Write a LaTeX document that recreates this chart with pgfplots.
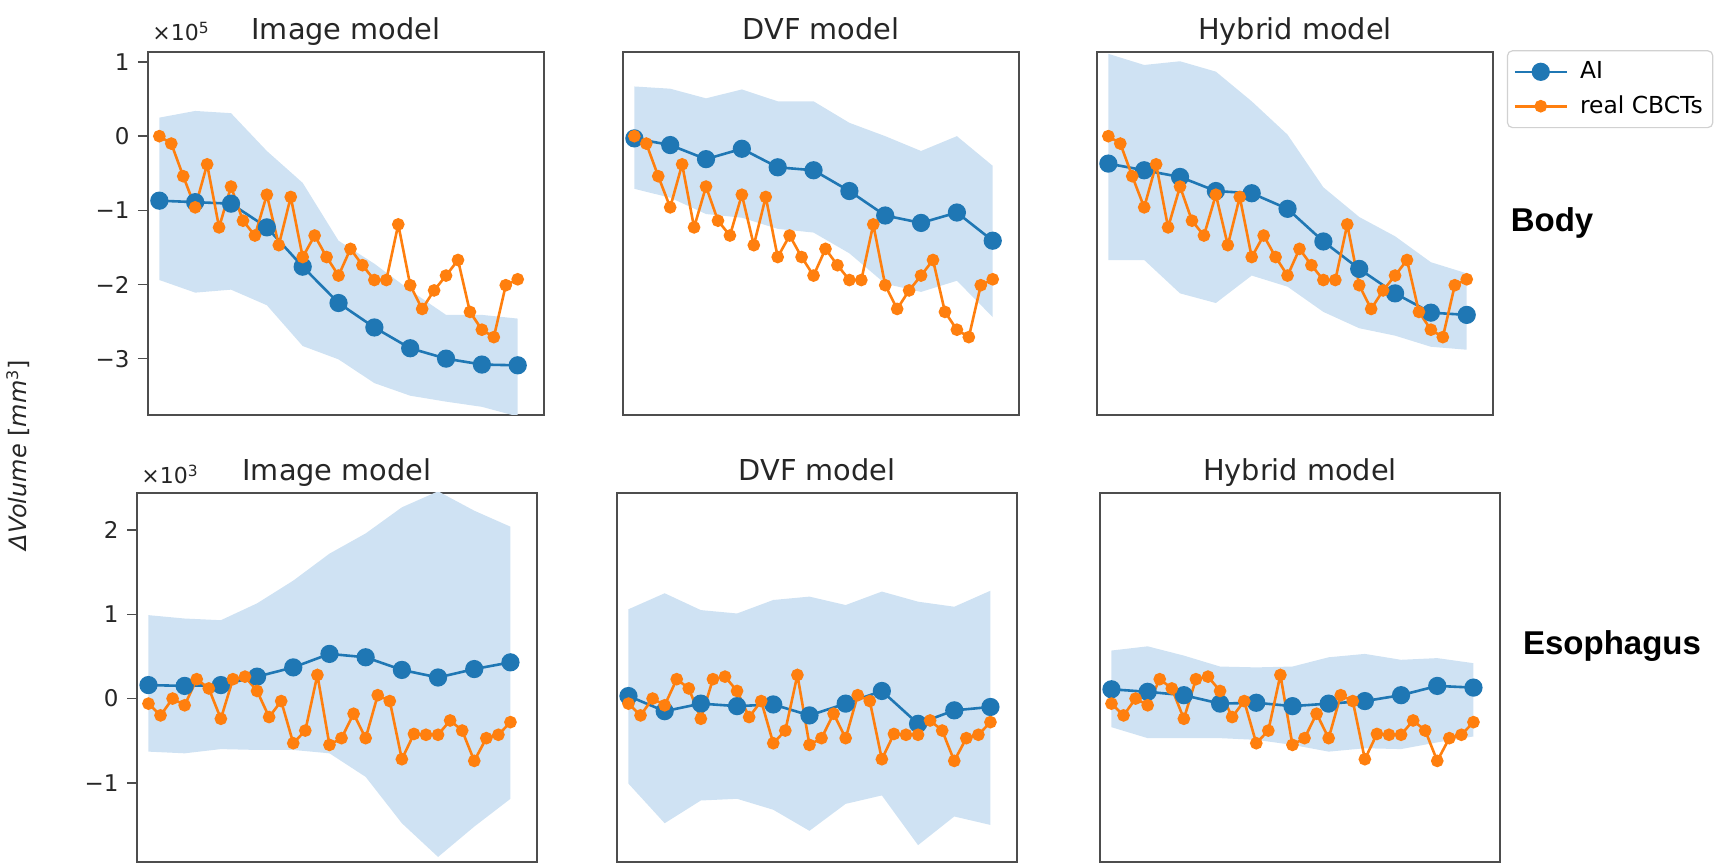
\documentclass[border=0pt]{standalone}
\usepackage{fontspec}
\setmainfont{DejaVu Sans}
\newfontfamily\rowfont{Liberation Sans}
\usepackage{pgfplots}
\usepackage{pgfplotstable}
\pgfplotsset{compat=1.18}

\definecolor{aiblue}{HTML}{1F77B4}
\definecolor{cbctorange}{HTML}{FF7F0E}
\definecolor{bandblue}{HTML}{CFE2F3}
\definecolor{framegray}{HTML}{4D4D4D}
\definecolor{txt}{HTML}{262626}

% real CBCTs, body (x10^5 mm^3)
\pgfplotstableread{
x y
0 0.00
1 -0.10
2 -0.54
3 -0.96
4 -0.38
5 -1.23
6 -0.68
7 -1.14
8 -1.34
9 -0.79
10 -1.47
11 -0.82
12 -1.63
13 -1.34
14 -1.63
15 -1.88
16 -1.52
17 -1.74
18 -1.94
19 -1.94
20 -1.19
21 -2.01
22 -2.33
23 -2.08
24 -1.88
25 -1.67
26 -2.37
27 -2.61
28 -2.71
29 -2.01
30 -1.93
}\cbctbody

% real CBCTs, esophagus (x10^3 mm^3)
\pgfplotstableread{
x y
0 -0.06
1 -0.20
2 0.00
3 -0.08
4 0.23
5 0.12
6 -0.24
7 0.23
8 0.26
9 0.09
10 -0.22
11 -0.03
12 -0.53
13 -0.38
14 0.28
15 -0.55
16 -0.47
17 -0.18
18 -0.47
19 0.04
20 -0.03
21 -0.72
22 -0.42
23 -0.43
24 -0.43
25 -0.26
26 -0.38
27 -0.74
28 -0.47
29 -0.43
30 -0.28
}\cbcteso

% AI means, one column per panel
\pgfplotstableread{
x bimg bdvf bhyb eimg edvf ehyb
0 -0.87 -0.03 -0.37 0.16 0.03 0.11
3 -0.89 -0.12 -0.46 0.15 -0.15 0.08
6 -0.91 -0.31 -0.55 0.16 -0.06 0.04
9 -1.23 -0.17 -0.74 0.26 -0.09 -0.06
12 -1.76 -0.42 -0.77 0.37 -0.07 -0.05
15 -2.25 -0.46 -0.98 0.53 -0.20 -0.09
18 -2.58 -0.74 -1.42 0.49 -0.06 -0.06
21 -2.86 -1.07 -1.79 0.34 0.09 -0.03
24 -3.00 -1.17 -2.12 0.25 -0.30 0.04
27 -3.08 -1.03 -2.38 0.35 -0.14 0.15
30 -3.09 -1.41 -2.41 0.43 -0.10 0.13
}\aimean

\pgfplotsset{
  panel/.style={
    scale only axis, anchor=south west,
    xmin=-0.95, xmax=32.2, xtick=\empty,
    axis line style={framegray, line width=0.9pt},
    ytick pos=left, tick align=outside, major tick length=5pt,
    every tick/.style={framegray, line width=0.8pt},
    yticklabel style={font=\fontsize{11.5}{13}\selectfont, text=txt, inner xsep=4pt},
    title style={font=\fontsize{14.4}{16}\selectfont, text=txt, at={(0.5,1)}, anchor=base, yshift=0pt},
  },
  toprow/.style={panel, width=198pt, height=181.5pt, ymin=-3.76, ymax=1.135},
  botrow/.style={panel, width=200pt, height=184.5pt, ymin=-1.94, ymax=2.44},
  band/.style={fill=bandblue, draw=none, forget plot},
  ai/.style={aiblue, line width=1.3pt, mark=*, mark size=3.9pt,
    mark options={solid, fill=aiblue, draw=aiblue}},
  cbct/.style={cbctorange, line width=1.3pt, mark=*, mark size=2.5pt,
    mark options={solid, fill=cbctorange, draw=cbctorange}},
}

\begin{document}
\begin{tikzpicture}
\useasboundingbox (0,0) rectangle (862.5pt,433.5pt);

% ---- Body ----
\begin{axis}[toprow, name=p1, at={(74pt,226pt)}, title={Image model},
  ytick={-3,-2,-1,0,1}, yticklabels={−3,−2,−1,0,1}]
  \addplot[band] coordinates {
    (0,0.25) (3,0.34) (6,0.31) (9,-0.20) (12,-0.63) (15,-1.41) (18,-1.72)
    (21,-2.08) (24,-2.41) (27,-2.41) (30,-2.46)
    (30,-3.78) (27,-3.65) (24,-3.58) (21,-3.50) (18,-3.33) (15,-3.01)
    (12,-2.83) (9,-2.28) (6,-2.07) (3,-2.11) (0,-1.94)};
  \addplot[ai] table[x=x, y=bimg] {\aimean};
  \addplot[cbct] table[x=x, y=y] {\cbctbody};
\end{axis}
\begin{axis}[toprow, at={(311.5pt,226pt)}, title={DVF model}, ytick=\empty]
  \addplot[band] coordinates {
    (0,0.67) (3,0.64) (6,0.51) (9,0.63) (12,0.47) (15,0.47) (18,0.18)
    (21,0.00) (24,-0.20) (27,0.00) (30,-0.40)
    (30,-2.44) (27,-1.95) (24,-2.10) (21,-1.99) (18,-1.58) (15,-1.30)
    (12,-1.25) (9,-1.10) (6,-1.05) (3,-0.83) (0,-0.71)};
  \addplot[ai] table[x=x, y=bdvf] {\aimean};
  \addplot[cbct] table[x=x, y=y] {\cbctbody};
\end{axis}
\begin{axis}[toprow, at={(548.5pt,226pt)}, title={Hybrid model}, ytick=\empty,
  legend style={at={(1.035,1.005)}, anchor=north west, draw=black!18,
    line width=0.6pt, rounded corners=2.5pt, fill=white,
    font=\fontsize{11.7}{13}\selectfont, inner xsep=3pt, inner ysep=3.5pt, row sep=3pt},
  legend cell align=left,
  legend image code/.code={\draw[mark repeat=2, mark phase=2]
    plot coordinates {(0pt,0pt) (13pt,0pt) (26pt,0pt)};}]
  \addplot[band] coordinates {
    (0,1.11) (3,0.96) (6,1.01) (9,0.87) (12,0.47) (15,0.02) (18,-0.69)
    (21,-1.09) (24,-1.35) (27,-1.70) (30,-1.85)
    (30,-2.88) (27,-2.84) (24,-2.69) (21,-2.59) (18,-2.37) (15,-2.03)
    (12,-1.88) (9,-2.25) (6,-2.12) (3,-1.67) (0,-1.67)};
  \addplot[ai] table[x=x, y=bhyb] {\aimean};
  \addplot[cbct] table[x=x, y=y] {\cbctbody};
  \legend{\hspace*{4pt}AI, \hspace*{4pt}real CBCTs}
\end{axis}

% ---- Esophagus ----
\begin{axis}[botrow, name=p4, at={(68.5pt,2.5pt)}, title={Image model},
  ytick={-1,0,1,2}, yticklabels={−1,0,1,2}]
  \addplot[band] coordinates {
    (0,0.99) (3,0.95) (6,0.93) (9,1.13) (12,1.40) (15,1.72) (18,1.96)
    (21,2.27) (24,2.46) (27,2.23) (30,2.04)
    (30,-1.19) (27,-1.52) (24,-1.88) (21,-1.48) (18,-0.93) (15,-0.65)
    (12,-0.61) (9,-0.61) (6,-0.60) (3,-0.65) (0,-0.63)};
  \addplot[ai] table[x=x, y=eimg] {\aimean};
  \addplot[cbct] table[x=x, y=y] {\cbcteso};
\end{axis}
\begin{axis}[botrow, at={(308.5pt,2.5pt)}, title={DVF model}, ytick=\empty]
  \addplot[band] coordinates {
    (0,1.06) (3,1.25) (6,1.05) (9,1.01) (12,1.17) (15,1.21) (18,1.11)
    (21,1.27) (24,1.15) (27,1.09) (30,1.28)
    (30,-1.50) (27,-1.40) (24,-1.74) (21,-1.15) (18,-1.25) (15,-1.57)
    (12,-1.32) (9,-1.19) (6,-1.21) (3,-1.48) (0,-1.01)};
  \addplot[ai] table[x=x, y=edvf] {\aimean};
  \addplot[cbct] table[x=x, y=y] {\cbcteso};
\end{axis}
\begin{axis}[botrow, at={(550pt,2.5pt)}, title={Hybrid model}, ytick=\empty]
  \addplot[band] coordinates {
    (0,0.57) (3,0.62) (6,0.51) (9,0.38) (12,0.37) (15,0.38) (18,0.49)
    (21,0.53) (24,0.46) (27,0.48) (30,0.42)
    (30,-0.45) (27,-0.52) (24,-0.60) (21,-0.59) (18,-0.63) (15,-0.55)
    (12,-0.49) (9,-0.47) (6,-0.47) (3,-0.47) (0,-0.34)};
  \addplot[ai] table[x=x, y=ehyb] {\aimean};
  \addplot[cbct] table[x=x, y=y] {\cbcteso};
\end{axis}

% offsets, row names, shared y label
\node[anchor=base west, inner sep=0pt, text=txt, font=\fontsize{11}{12}\selectfont]
  at ([xshift=2pt, yshift=5.5pt]p1.north west) {×10\textsuperscript{5}};
\node[anchor=base west, inner sep=0pt, text=txt, font=\fontsize{11}{12}\selectfont]
  at ([xshift=2pt, yshift=4.5pt]p4.north west) {×10\textsuperscript{3}};
\node[font=\rowfont\bfseries\fontsize{16.5}{18}\selectfont] at (776pt,322pt) {Body};
\node[font=\rowfont\bfseries\fontsize{16.5}{18}\selectfont] at (806pt,110.5pt) {Esophagus};
\node[rotate=90, text=txt, font=\fontsize{12}{14}\selectfont] at (9pt,206pt)
  {\itshape ΔVolume \upshape[\itshape mm\upshape\textsuperscript{3}]};
\end{tikzpicture}
\end{document}
